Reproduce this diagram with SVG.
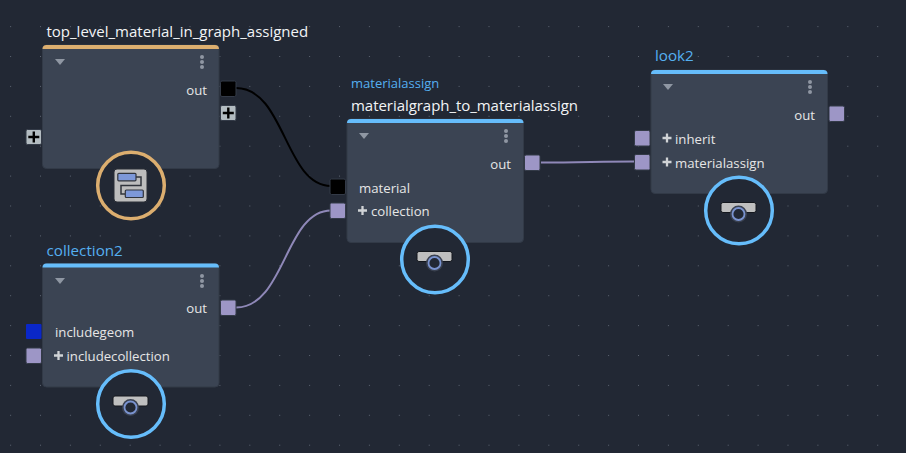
<svg xmlns="http://www.w3.org/2000/svg" width="906" height="453" viewBox="0 0 906 453">
<style>
text{font-family:"Open Sans","Noto Sans","Liberation Sans",sans-serif;font-size:13.2px;fill:#e6e6e6}
.title{font-size:15px;fill:#f2f4f6}
.btitle{font-size:15.200px;fill:#55aff0}
.sub{font-size:13px;fill:#55aff0}
.body{fill:#3b4453;stroke:#323a47;stroke-width:1}
.port{fill:#9d96c6;stroke:#333a47;stroke-width:1}
.tri{fill:#8f97a3}
.dot{fill:#8f97a3}
.ring{fill:#222834;stroke-width:3.5}
.wire{fill:none;stroke-width:2}
.plus{stroke:#d0d3d6;stroke-width:2.300}
.pbtn{fill:#b3bcc1;stroke:#333a47}
.pbar{stroke:#000;stroke-width:2.400}
</style>
<defs>
<pattern id="grid" x="40" y="26.1" width="29.9" height="29.9" patternUnits="userSpaceOnUse"><rect x="0" y="0" width="1" height="1" fill="#5b6370"/></pattern>
<g id="cam">
<rect x="-17.500" y="-8" width="35" height="10" rx="2" fill="#bfbfbf" stroke="#14171d"/>
<circle cx="0" cy="3.500" r="8.500" fill="#3a4150"/>
<circle cx="0" cy="3.500" r="6" fill="#222834" stroke="#7a93cf" stroke-width="1.800"/>
</g>
<g id="dots"><circle class="dot" cx="0" cy="-5" r="2"/><circle class="dot" cx="0" cy="0" r="2"/><circle class="dot" cx="0" cy="5" r="2"/></g>
<path id="pl" class="plus" d="M-4.500 0H4.500M0 -4.500V4.500"/>
</defs>
<rect width="906" height="453" fill="#222834"/>
<rect width="906" height="453" fill="url(#grid)"/>
<g id="connectors">
<path class="wire" stroke="#000" d="M236 88C285 88 285 186 331 186"/>
<path class="wire" stroke="#8f88b8" d="M236 307.500C285 307.500 285 210.500 331 210.500"/>
<path class="wire" stroke="#8f88b8" d="M541 162.500C580 162.500 600 161.500 634 161.500"/>
</g>
<g id="node-top">
<rect class="body" x="42.500" y="45" width="176.500" height="123.500" rx="4"/>
<path fill="#dcae6f" d="M42.500 49C42.500 46.500 44 45 46.500 45H215C217.500 45 219 46.500 219 49Z"/>
<path class="tri" d="M55 59H65L60 65Z"/>
<use href="#dots" x="202" y="62"/>
<text x="207" y="95" text-anchor="end">out</text>
<rect x="220.500" y="81" width="15.500" height="15.500" rx="1.500" fill="#000" stroke="#333a47"/>
<rect class="pbtn" x="220.500" y="105.500" width="15.500" height="15" rx="1.500"/>
<path class="pbar" d="M222.800 113H233.800M228.300 107.500V118.500"/>
<rect class="pbtn" x="26" y="129.500" width="15.500" height="15" rx="1.500"/>
<path class="pbar" d="M28.300 137H39.300M33.800 131.500V142.500"/>
<circle class="ring" cx="131" cy="185.500" r="33.300" stroke="#dcae6f"/>
<rect x="114" y="169" width="33" height="33" rx="3" fill="#bdbdbd" stroke="#2a2e36"/>
<path fill="none" stroke="#30343c" stroke-width="1.500" d="M136 177H141V185.500H121V194H125"/>
<rect x="117.800" y="173.300" width="18.200" height="7.500" rx="1" fill="#7d98d8" stroke="#30343c" stroke-width="1.200"/>
<rect x="125.300" y="190" width="18" height="7.500" rx="1" fill="#7d98d8" stroke="#30343c" stroke-width="1.200"/>
<text class="title" x="46.500" y="37">top_level_material_in_graph_assigned</text>
</g>
<g id="node-collection2">
<rect class="body" x="42.500" y="263.500" width="176.500" height="123.500" rx="4"/>
<path fill="#66bdfb" d="M42.500 267.500C42.500 265 44 263.500 46.500 263.500H215C217.500 263.500 219 265 219 267.500Z"/>
<path class="tri" d="M55 278H65L60 284Z"/>
<use href="#dots" x="202" y="281"/>
<text x="207" y="313" text-anchor="end">out</text>
<rect class="port" x="220.500" y="300" width="15.500" height="15.500" rx="1.500"/>
<text x="55" y="337">includegeom</text>
<rect x="26" y="324" width="15.500" height="15" rx="1" fill="#0a27c8"/>
<use href="#pl" x="58.500" y="355.500"/>
<text x="66.500" y="361">includecollection</text>
<rect class="port" x="26" y="348" width="15.500" height="15.500" rx="1.500"/>
<circle class="ring" cx="131" cy="404" r="33.300" stroke="#66bdfb"/>
<use href="#cam" x="130.500" y="404"/>
<text class="btitle" x="46.500" y="256">collection2</text>
</g>
<g id="node-materialassign">
<rect class="body" x="347" y="119" width="176.500" height="123.500" rx="4"/>
<path fill="#66bdfb" d="M347 123C347 120.500 348.500 119 351 119H519.500C522 119 523.500 120.500 523.500 123Z"/>
<path class="tri" d="M359 133H369L364 139Z"/>
<use href="#dots" x="506" y="136"/>
<text x="511" y="169" text-anchor="end">out</text>
<rect class="port" x="524.500" y="155" width="15.500" height="15.500" rx="1.500"/>
<text x="359" y="193">material</text>
<rect x="330" y="179" width="15.500" height="15.500" rx="1.500" fill="#000" stroke="#333a47"/>
<use href="#pl" x="362.500" y="210.500"/>
<text x="371" y="216">collection</text>
<rect class="port" x="330" y="203" width="15.500" height="15.500" rx="1.500"/>
<circle class="ring" cx="435" cy="259.500" r="33.300" stroke="#66bdfb"/>
<use href="#cam" x="434.500" y="259.500"/>
<text class="sub" x="351" y="88">materialassign</text>
<text class="title" x="351" y="111" textLength="227">materialgraph_to_materialassign</text>
</g>
<g id="node-look2">
<rect class="body" x="651" y="70" width="176.500" height="123.500" rx="4"/>
<path fill="#66bdfb" d="M651 74C651 71.500 652.500 70 655 70H823.500C826 70 827.500 71.500 827.500 74Z"/>
<path class="tri" d="M663 84H673L668 90Z"/>
<use href="#dots" x="810" y="87"/>
<text x="815" y="120" text-anchor="end">out</text>
<rect class="port" x="829" y="106" width="15.500" height="15.500" rx="1.500"/>
<use href="#pl" x="667" y="138"/>
<text x="675" y="144">inherit</text>
<rect class="port" x="634.500" y="130.500" width="15.500" height="15.500" rx="1.500"/>
<use href="#pl" x="667" y="162"/>
<text x="675" y="168">materialassign</text>
<rect class="port" x="634.500" y="154.500" width="15.500" height="15.500" rx="1.500"/>
<circle class="ring" cx="739" cy="210.500" r="33.300" stroke="#66bdfb"/>
<use href="#cam" x="738.500" y="210.500"/>
<text class="btitle" x="655" y="61">look2</text>
</g>
</svg>
